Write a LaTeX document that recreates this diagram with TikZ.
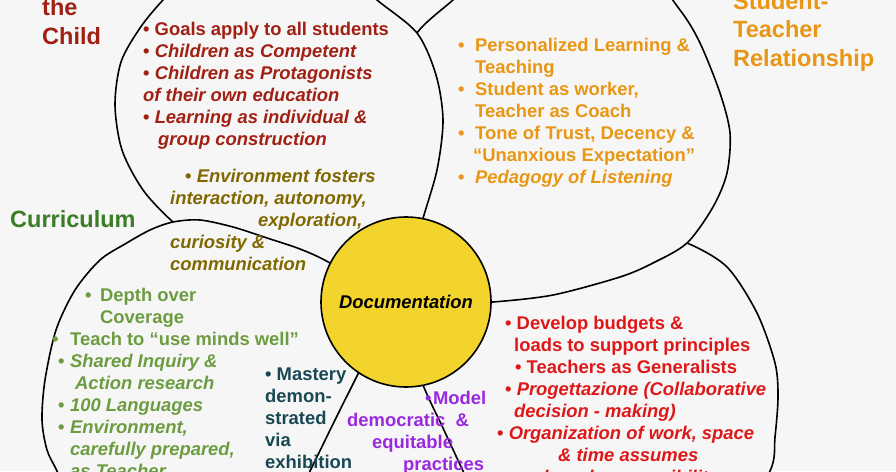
\documentclass[tikz,border=0pt]{standalone}
\usepackage{fontspec}
\setmainfont{Liberation Sans}

\definecolor{bgcol}{RGB}{246,246,246}
\definecolor{childred}{RGB}{160,32,20}
\definecolor{envolive}{RGB}{128,104,0}
\definecolor{storange}{RGB}{232,150,20}
\definecolor{curgreen}{RGB}{60,125,40}
\definecolor{curtext}{RGB}{108,156,64}
\definecolor{masteal}{RGB}{24,72,84}
\definecolor{modpurple}{RGB}{155,40,225}
\definecolor{orgred}{RGB}{222,24,24}
\definecolor{docyellow}{RGB}{242,212,44}

\begin{document}
\begin{tikzpicture}[x=1pt, y=-1pt,
    petal/.style={fill=bgcol, draw=black, line width=1.6pt},
    body/.style={inner sep=0pt, anchor=base west, align=left,
      font=\bfseries\fontsize{18.4}{22}\selectfont},
    title/.style={inner sep=0pt, anchor=base west, align=left,
      font=\bfseries\fontsize{23.5}{28.5}\selectfont},
    hub/.style={circle, fill=docyellow, draw=black, line width=1.6pt,
      minimum size=170pt, inner sep=0pt,
      font=\bfseries\itshape\fontsize{18.4}{22}\selectfont}]

        \useasboundingbox (0,0) rectangle (896,471);
        \fill[bgcol] (0,0) rectangle (896,471);
        \clip (0,0) rectangle (896,471);

        % Petals, back to front
        \draw[petal] plot[smooth cycle] coordinates {(395,320) (340,390) (305,460) (285,520) (380,560) (495,520) (455,420) (430,360)};
        \draw[petal] plot[smooth cycle] coordinates {(395,310) (423,385) (443,428) (463,471) (486,520) (600,590) (730,530) (770,471) (775,437) (778,397) (775,363) (757,313) (727,267) (687,243) (650,235) (590,250) (520,275) (450,295)};
        \draw[petal] plot[smooth cycle] coordinates {(410,300) (455,303) (493,302) (553,295) (620,277) (653,263) (687,243) (713,207) (727,173) (730,133) (720,93) (700,43) (680,10) (640,-35) (570,-50) (500,-40) (453,0) (417,33) (400,75) (393,135) (396,200) (403,260)};
        \draw[petal] plot[smooth cycle] coordinates {(406,302) (330,290) (260,268) (205,245) (173,222) (143,190) (122,150) (115,105) (121,62) (140,28) (163,0) (190,-25) (240,-45) (300,-45) (350,-25) (377,0) (417,33) (436,75) (443,120) (437,170) (422,222) (412,265)};
        \draw[petal] plot[smooth cycle] coordinates {(390,300) (330,263) (300,249) (267,238) (233,227) (200,220) (173,222) (150,230) (125,244) (100,260) (75,290) (56,330) (45,380) (42,420) (47,450) (57,471) (75,510) (130,560) (230,560) (290,510) (310,471) (335,420) (360,370) (380,330)};

        % Centre
        \node[hub] (doc) at (406,302) {Documentation};

        % Petal titles (placed at the baseline of their last line)
        \node[title, text=childred] (childlabel) at (42,44.5) {the\\Child};
        \node[title, text=storange] (stlabel) at (733,66) {Student-\\Teacher\\Relationship};
        \node[title, text=curgreen] (curlabel) at (10,227) {Curriculum};

        % Petal texts
        \node[body, text=childred] (childlist) at (143,145) {%
          • Goals apply to all students\\
          • \textit{Children as Competent}\\
          • \textit{Children as Protagonists}\\
          \textit{of their own education}\\
          • \textit{Learning as individual \&}\\
          \hspace*{15pt}\textit{group construction}};
        \node[body, text=envolive] (envlist) at (170,270) {%
          \hspace*{15pt}• \textit{Environment fosters}\\
          \textit{interaction, autonomy,}\\
          \hspace*{88pt}\textit{exploration,}\\
          \textit{curiosity \&}\\
          \textit{communication}};
        \node[body, text=storange] (stlist) at (458,183) {%
          \makebox[17pt][l]{•}Personalized Learning \&\\
          \hspace*{17pt}Teaching\\
          \makebox[17pt][l]{•}Student as worker,\\
          \hspace*{17pt}Teacher as Coach\\
          \makebox[17pt][l]{•}Tone of Trust, Decency \&\\
          \hspace*{15pt}“Unanxious Expectation”\\
          \makebox[17pt][l]{•}\textit{Pedagogy of Listening}};
        \node[body, text=curtext] (curlist) at (52,477) {%
          \hspace*{33pt}\makebox[15pt][l]{•}Depth over\\
          \hspace*{48pt}Coverage\\
          \makebox[18pt][l]{•}Teach to “use minds well”\\
          \hspace*{6pt}\makebox[12pt][l]{•}\textit{Shared Inquiry \&}\\
          \hspace*{23pt}\textit{Action research}\\
          \hspace*{6pt}\makebox[12pt][l]{•}\textit{100 Languages}\\
          \hspace*{6pt}\makebox[12pt][l]{•}\textit{Environment,}\\
          \hspace*{18pt}\textit{carefully prepared,}\\
          \hspace*{18pt}\textit{as Teacher}};
        \node[body, text=masteal] (mastery) at (265,468) {%
          • Mastery\\
          demon-\\
          strated\\
          via\\
          exhibition};
        \node[body, text=modpurple] (model) at (347,470) {%
          \hspace*{78pt}•\hspace{1.5pt}Model\\
          democratic\ \ \&\\
          \hspace*{25pt}equitable\\
          \hspace*{56pt}practices};
        \node[body, text=orgred] (orglist) at (497,483) {%
          \hspace*{8pt}• Develop budgets \&\\
          \hspace*{17pt}loads to support principles\\
          \hspace*{18pt}• Teachers as Generalists\\
          \hspace*{8pt}• \textit{Progettazione (Collaborative}\\
          \hspace*{17pt}\textit{decision - making)}\\
          • \textit{Organization of work, space}\\
          \hspace*{61pt}\textit{\& time assumes}\\
          \hspace*{36pt}\textit{shared responsibility}};

        \end{tikzpicture}
\end{document}
